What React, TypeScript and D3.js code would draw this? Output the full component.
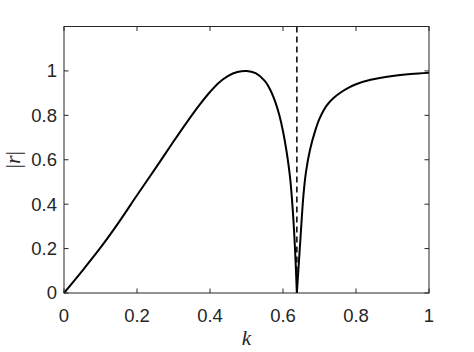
import React from "react";
import * as d3 from "d3";

const kValues = [0, 0.05, 0.1, 0.15, 0.2, 0.25, 0.3, 0.35, 0.375, 0.4, 0.425, 0.45, 0.475, 0.5, 0.525, 0.55, 0.565, 0.58, 0.59, 0.6, 0.61, 0.62, 0.63, 0.638, 0.648, 0.656, 0.663, 0.674, 0.69, 0.7, 0.72, 0.74, 0.76, 0.78, 0.8, 0.84, 0.9, 0.95, 1.0];
const rValues = [0, 0.1, 0.204, 0.318, 0.44, 0.56, 0.682, 0.8, 0.855, 0.905, 0.948, 0.978, 0.995, 1.0, 0.99, 0.955, 0.915, 0.855, 0.8, 0.728, 0.635, 0.51, 0.29, 0, 0.25, 0.44, 0.545, 0.645, 0.74, 0.785, 0.845, 0.88, 0.905, 0.925, 0.94, 0.96, 0.977, 0.986, 0.992];
const kZero = 0.638;
const xTicks = [0, 0.2, 0.4, 0.6, 0.8, 1];
const yTicks = [0, 0.2, 0.4, 0.6, 0.8, 1];
const xLabel = "k";

const W = 474;
const H = 352;
const left = 64;
const right = 429;
const top = 26.5;
const bottom = 293;
const axisColor = "#262626";

export default function App() {
  const x = d3.scaleLinear().domain([0, 1]).range([left, right]);
  const y = d3.scaleLinear().domain([0, 1.2]).range([bottom, top]);
  const pts = kValues.map((k, i) => [k, rValues[i]] as [number, number]);
  const minIdx = rValues.indexOf(d3.min(rValues) as number, 1);
  const seg1 = pts.slice(0, minIdx + 1);
  const seg2 = pts.slice(minIdx);
  const line = d3
    .line<[number, number]>()
    .x((d) => x(d[0]))
    .y((d) => y(d[1]))
    .curve(d3.curveCatmullRom.alpha(0.5));
  const tickLen = 4.5;
  const fmt = (v: number) => String(v);
  return (
    <svg
      width={W}
      height={H}
      style={{ position: "absolute", left: 0, top: 0, background: "#fff" }}
      fontFamily="'Liberation Sans', Arial, sans-serif"
    >
      <rect x={0} y={0} width={W} height={H} fill="#fff" />
      <line
        x1={x(kZero)}
        x2={x(kZero)}
        y1={y(1.2)}
        y2={y(0)}
        stroke="#000"
        strokeWidth={1.5}
        strokeDasharray="6,4"
      />
      <path d={line(seg1) || ""} fill="none" stroke="#000" strokeWidth={2} strokeLinejoin="round" />
      <path d={line(seg2) || ""} fill="none" stroke="#000" strokeWidth={2} strokeLinejoin="round" />
      <rect x={left} y={top} width={right - left} height={bottom - top} fill="none" stroke={axisColor} strokeWidth={1} />
      {xTicks.map((t) => (
        <g key={"x" + t}>
          <line x1={x(t)} x2={x(t)} y1={bottom} y2={bottom - tickLen} stroke={axisColor} />
          <line x1={x(t)} x2={x(t)} y1={top} y2={top + tickLen} stroke={axisColor} />
          <text x={x(t)} y={322} textAnchor="middle" fontSize={18.5} fill={axisColor}>
            {fmt(t)}
          </text>
        </g>
      ))}
      {yTicks.map((t) => (
        <g key={"y" + t}>
          <line x1={left} x2={left + tickLen} y1={y(t)} y2={y(t)} stroke={axisColor} />
          <line x1={right} x2={right - tickLen} y1={y(t)} y2={y(t)} stroke={axisColor} />
          <text x={57} y={y(t)} dy="0.35em" textAnchor="end" fontSize={18.5} fill={axisColor}>
            {fmt(t)}
          </text>
        </g>
      ))}
      <text
        x={(left + right) / 2}
        y={345}
        textAnchor="middle"
        fontSize={21}
        fontStyle="italic"
        fontFamily="'Liberation Serif', 'DejaVu Serif', serif"
        fill={axisColor}
      >
        {xLabel}
      </text>
      <text
        transform={`translate(20,${(top + bottom) / 2}) rotate(-90)`}
        textAnchor="middle"
        fontSize={22}
        fontFamily="'Liberation Serif', 'DejaVu Serif', serif"
        fill={axisColor}
      >
        <tspan>|</tspan>
        <tspan fontStyle="italic">r</tspan>
        <tspan>|</tspan>
      </text>
    </svg>
  );
}
